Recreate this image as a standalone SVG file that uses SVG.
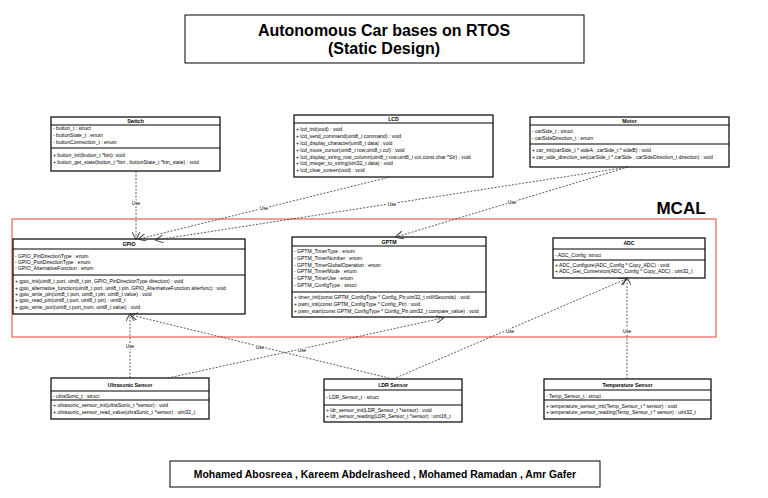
<svg xmlns="http://www.w3.org/2000/svg" width="768" height="498" viewBox="0 0 768 498">
<style>
.box{fill:#fff;stroke:#000;stroke-width:1.2}
.sep{stroke:#000;stroke-width:1}
.t{font-family:"Liberation Sans",Arial,sans-serif;font-size:5.05px;fill:#000}
.h{font-family:"Liberation Sans",Arial,sans-serif;font-size:5.2px;font-weight:bold;fill:#000;text-anchor:middle}
.c{fill:none;stroke:#333;stroke-width:0.8;stroke-dasharray:2,1.5}
.u{font-family:"Liberation Sans",Arial,sans-serif;font-size:4.8px;fill:#000;text-anchor:middle;paint-order:stroke;stroke:#fff;stroke-width:2.5}
.big{font-family:"Liberation Sans",Arial,sans-serif;font-weight:bold;fill:#000;text-anchor:middle}
</style>
<defs>
<marker id="arr" viewBox="0 0 10 10" refX="9" refY="5" markerWidth="8" markerHeight="8" markerUnits="userSpaceOnUse" orient="auto">
<path d="M0,0 L10,5 L0,10" fill="none" stroke="#333" stroke-width="1.2"/>
</marker>
</defs>
<rect width="768" height="498" fill="#fff"/>

<g id="title">
<rect x="185" y="15" width="399" height="48" fill="#fff" stroke="#000" stroke-width="1"/>
<text class="big" x="384" y="36" font-size="16">Autonomous Car bases on RTOS</text>
<text class="big" x="384" y="54" font-size="16">(Static Design)</text>
</g>

<g id="mcal">
<rect x="12" y="219" width="704" height="118" fill="none" stroke="#e8412c" stroke-width="1"/>
<text class="big" x="681" y="214" font-size="17">MCAL</text>
</g>

<g id="footer">
<rect x="170" y="461" width="430" height="26" fill="#fff" stroke="#000" stroke-width="1"/>
<text class="big" x="385" y="478" font-size="10.4">Mohamed Abosreea , Kareem Abdelrasheed , Mohamed Ramadan , Amr Gafer</text>
</g>

<g id="switch">
<rect class="box" x="51" y="117" width="169" height="54"/>
<line class="sep" x1="51" y1="125" x2="220" y2="125"/>
<line class="sep" x1="51" y1="148" x2="220" y2="148"/>
<text class="h" x="135.5" y="123">Switch</text>
<text class="t" x="53" y="130">- button_t : struct</text>
<text class="t" x="53" y="137">- buttonState_t : enum</text>
<text class="t" x="53" y="144">- buttonConnection_t : enum</text>
<text class="t" x="53" y="157">+ button_init(button_t *btn): void</text>
<text class="t" x="53" y="164">+ button_get_state(button_t *btn , buttonState_t *btn_state) : void</text>
</g>

<g id="lcd">
<rect class="box" x="294" y="115" width="199" height="62"/>
<line class="sep" x1="294" y1="123" x2="493" y2="123"/>
<text class="h" x="393.5" y="121">LCD</text>
<text class="t" x="296" y="131">+ lcd_init(void) : void</text>
<text class="t" x="296" y="138">+ lcd_send_command(uint8_t command) : void</text>
<text class="t" x="296" y="144.5">+ lcd_display_character(uint8_t data) : void</text>
<text class="t" x="296" y="151.5">+ lcd_move_cursor(uint8_t row,uint8_t col) : void</text>
<text class="t" x="296" y="158.5">+ lcd_display_string_row_column(uint8_t row,uint8_t col,const char *Str) :  void</text>
<text class="t" x="296" y="165">+ lcd_integer_to_string(sint32_t data) : void</text>
<text class="t" x="296" y="172">+ lcd_clear_screen(void) : void</text>
</g>

<g id="motor">
<rect class="box" x="530" y="117" width="199" height="50"/>
<line class="sep" x1="530" y1="125" x2="729" y2="125"/>
<line class="sep" x1="530" y1="144" x2="729" y2="144"/>
<text class="h" x="629.5" y="123">Motor</text>
<text class="t" x="532" y="132.5">- carSide_t : struct</text>
<text class="t" x="532" y="139.5">- carSideDirection_t : enum</text>
<text class="t" x="532" y="151.5">+ car_init(carSide_t * sideA , carSide_t * sideB) : void</text>
<text class="t" x="532" y="158.5">+ car_side_direction_set(carSide_t * carSide , carSideDirection_t direction) : void</text>
</g>

<g id="gpio">
<rect class="box" x="13" y="239" width="232" height="75"/>
<line class="sep" x1="13" y1="249" x2="245" y2="249"/>
<line class="sep" x1="13" y1="275" x2="245" y2="275"/>
<text class="h" x="129" y="246">GPIO</text>
<text class="t" x="15" y="257.5">- GPIO_PinDirectionType : enum</text>
<text class="t" x="15" y="263.5">- GPIO_PortDirectionType : enum</text>
<text class="t" x="15" y="269.5">- GPIO_AlternativeFunction : enum</text>
<text class="t" x="15" y="282.5">+ gpio_init(uint8_t port, uint8_t pin, GPIO_PinDirectionType direction) : void</text>
<text class="t" x="15" y="289.5">+ gpio_alternative_function(uint8_t port, uint8_t pin, GPIO_AlternativeFunction alterfunc) : void</text>
<text class="t" x="15" y="295.5">+ gpio_write_pin(uint8_t port, uint8_t pin, uint8_t value) : void</text>
<text class="t" x="15" y="301.5">+ gpio_read_pin(uint8_t port, uint8_t pin) : uint8_t</text>
<text class="t" x="15" y="308.5">+ gpio_write_port(uint8_t port_num, uint8_t value) : void</text>
</g>

<g id="gptm">
<rect class="box" x="292" y="237" width="194" height="80"/>
<line class="sep" x1="292" y1="246" x2="486" y2="246"/>
<line class="sep" x1="292" y1="292" x2="486" y2="292"/>
<text class="h" x="389" y="243.5">GPTM</text>
<text class="t" x="294" y="252.5">- GPTM_TimerType : enum</text>
<text class="t" x="294" y="259.5">- GPTM_TimerNumber : enum</text>
<text class="t" x="294" y="266.5">- GPTM_TimerGlobalOperation : enum</text>
<text class="t" x="294" y="272.5">- GPTM_TimerMode : enum</text>
<text class="t" x="294" y="279.5">- GPTM_TimerUse : enum</text>
<text class="t" x="294" y="286.5">- GPTM_ConfigType : struct</text>
<text class="t" x="294" y="298.5">+ timer_init(const GPTM_ConfigType * Config_Ptr,uint32_t milliSeconds) : void</text>
<text class="t" x="294" y="305.5">+ pwm_init(const GPTM_ConfigType * Config_Ptr) : void</text>
<text class="t" x="294" y="312.5">+ pwm_start(const GPTM_ConfigType * Config_Ptr,uint32_t compare_value) : void</text>
</g>

<g id="adc">
<rect class="box" x="553" y="238" width="152" height="40"/>
<line class="sep" x1="553" y1="249" x2="705" y2="249"/>
<line class="sep" x1="553" y1="260" x2="705" y2="260"/>
<text class="h" x="629" y="245">ADC</text>
<text class="t" x="555" y="256.5">- ADC_Config :struct</text>
<text class="t" x="555" y="266.5">+ ADC_Configure(ADC_Config * Copy_ADC) : void</text>
<text class="t" x="555" y="272.5">+ ADC_Get_Conversion(ADC_Config * Copy_ADC) : uint32_t</text>
</g>

<g id="ultrasonic">
<rect class="box" x="51" y="378" width="158" height="41"/>
<line class="sep" x1="51" y1="391" x2="209" y2="391"/>
<line class="sep" x1="51" y1="400" x2="209" y2="400"/>
<text class="h" x="130" y="386.5">Ultrasonic Sensor</text>
<text class="t" x="53" y="397.5">- ultraSonic_t : struct</text>
<text class="t" x="53" y="406.5">+ ultrasonic_sensor_init(ultraSonic_t *sensor) : void</text>
<text class="t" x="53" y="413.5">+ ultrasonic_sensor_read_value(ultraSonic_t *sensor) : uint32_t</text>
</g>

<g id="ldr">
<rect class="box" x="324" y="379" width="138" height="43"/>
<line class="sep" x1="324" y1="390" x2="462" y2="390"/>
<line class="sep" x1="324" y1="405" x2="462" y2="405"/>
<text class="h" x="393" y="386.5">LDR Sensor</text>
<text class="t" x="326" y="398.5">- LDR_Sensor_t : struct</text>
<text class="t" x="326" y="411.5">+ ldr_sensor_init(LDR_Sensor_t *sensor) : void</text>
<text class="t" x="326" y="417.5">+ ldr_sensor_reading(LDR_Sensor_t *sensor) : uint16_t</text>
</g>

<g id="temperature">
<rect class="box" x="544" y="379" width="167" height="40"/>
<line class="sep" x1="544" y1="390" x2="711" y2="390"/>
<line class="sep" x1="544" y1="400" x2="711" y2="400"/>
<text class="h" x="627.5" y="386.5">Temperature Sensor</text>
<text class="t" x="546" y="397.5">- Temp_Sensor_t : struct</text>
<text class="t" x="546" y="407.5">+ temperature_sensor_init(Temp_Sensor_t * sensor) : void</text>
<text class="t" x="546" y="413.5">+ temperature_sensor_reading(Temp_Sensor_t * sensor) : uint32_t</text>
</g>

<g id="connectors">
<line class="c" x1="136" y1="171" x2="136" y2="239" marker-end="url(#arr)"/>
<line class="c" x1="390" y1="177" x2="139" y2="239" marker-end="url(#arr)"/>
<line class="c" x1="628" y1="167" x2="156" y2="240" marker-end="url(#arr)"/>
<line class="c" x1="628" y1="167" x2="396" y2="237" marker-end="url(#arr)"/>
<line class="c" x1="130" y1="378" x2="130" y2="314" marker-end="url(#arr)"/>
<line class="c" x1="168" y1="378" x2="443" y2="318" marker-end="url(#arr)"/>
<line class="c" x1="393" y1="379" x2="131" y2="315" marker-end="url(#arr)"/>
<line class="c" x1="393" y1="379" x2="626" y2="279" marker-end="url(#arr)"/>
<line class="c" x1="627" y1="379" x2="627" y2="278" marker-end="url(#arr)"/>
<text class="u" x="136" y="205">Use</text>
<text class="u" x="264" y="210">Use</text>
<text class="u" x="392" y="206">Use</text>
<text class="u" x="512" y="204">Use</text>
<text class="u" x="130" y="348">Use</text>
<text class="u" x="260" y="349">Use</text>
<text class="u" x="302" y="352">Use</text>
<text class="u" x="510" y="333">Use</text>
<text class="u" x="627" y="333">Use</text>
</g>
</svg>
